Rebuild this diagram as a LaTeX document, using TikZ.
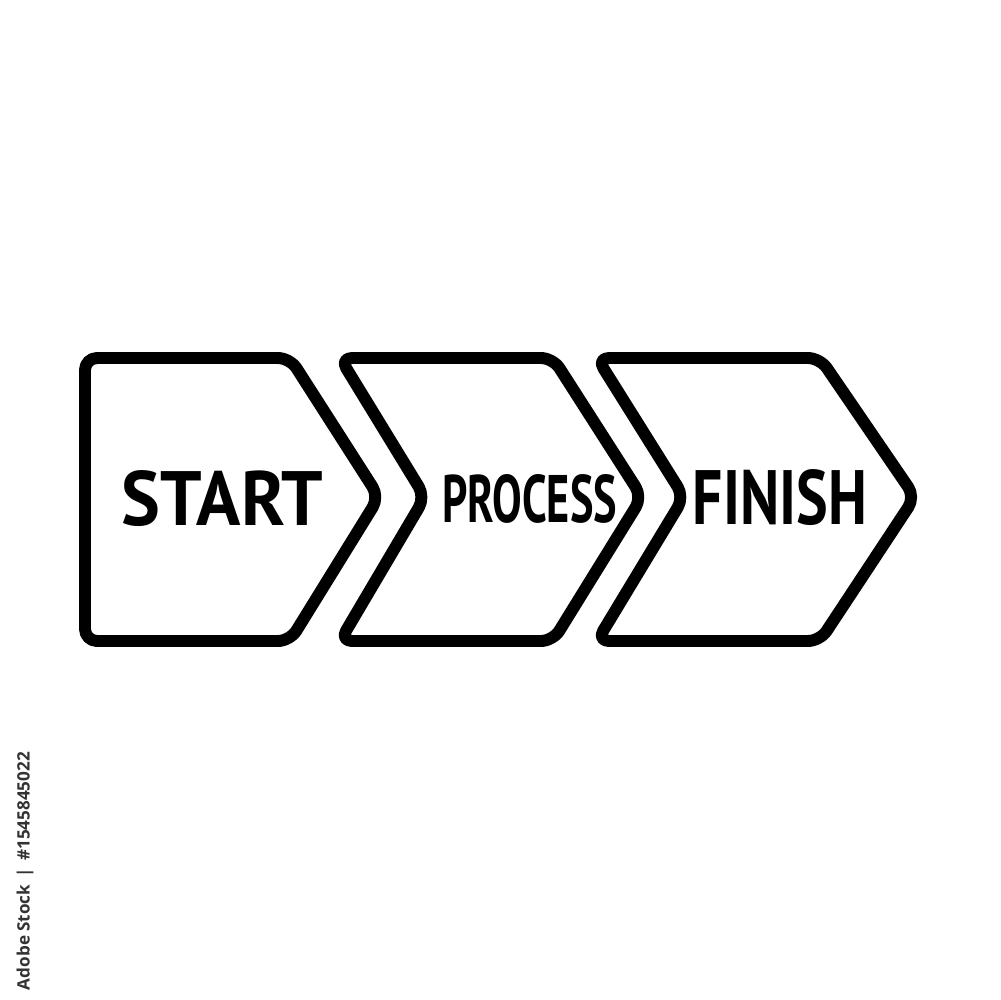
\documentclass[tikz,border=0pt]{standalone}
\usepackage{fontspec}
\usepackage{graphicx}
\setmainfont{PT Sans}
\newfontfamily\wmfont{Open Sans}
\definecolor{wmgray}{HTML}{333333}
\tikzset{
  chev/.style={draw=black, line width=3.4pt, line join=round, rounded corners=1.2mm, fill=white},
  lbl/.style={inner sep=0pt, anchor=center},
}
\begin{document}
\begin{tikzpicture}[x=0.1mm, y=-0.1mm]
\useasboundingbox[fill=white] (0,0) rectangle (1000,1000);
% start
\draw[chev] (85,358) -- (290,358) -- (379,497) -- (290,641) -- (85,641) -- cycle;
% process
\draw[chev] (340,358) -- (553,358) -- (642,497) -- (553,641) -- (340,641) -- (425,497) -- cycle;
% finish
\draw[chev] (597,358) -- (820,358) -- (915,497) -- (820,641) -- (597,641) -- (684,497) -- cycle;
\node[lbl] (start) at (222.5,498.5) {\resizebox{20.1mm}{5.5mm}{\bfseries START}};
\node[lbl] (process) at (529.5,499) {\resizebox{17.5mm}{4.8mm}{\bfseries PROCESS}};
\node[lbl] (finish) at (780,497.5) {\resizebox{17.4mm}{5.5mm}{\bfseries FINISH}};
\node[lbl, rotate=90, text=wmgray] (wm) at (25,871) {\resizebox{23.8mm}{!}{\wmfont\bfseries Adobe Stock \,|\, \#1545845022}};
\end{tikzpicture}
\end{document}
